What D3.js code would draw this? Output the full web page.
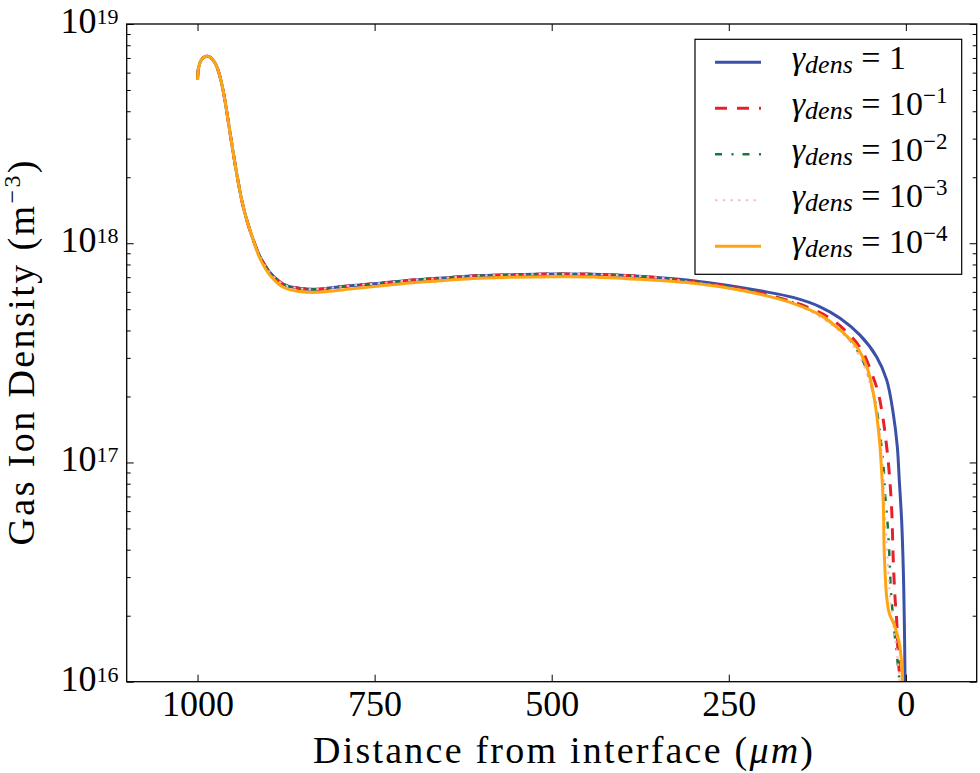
<!DOCTYPE html>
<html>
<head>
<meta charset="utf-8">
<script src="https://cdn.jsdelivr.net/npm/d3@7"></script>
<style>
  body { margin: 0; background: #fff; }
  svg { display: block; }
  text { font-family: "Liberation Serif", serif; fill: #000; }
</style>
</head>
<body>
<div id="container"></div>
<script>
// distance from interface (um) and gas ion density (m^-3)
const headDist = [1000, 998.6, 995.1, 990.9, 986.2, 981.0, 975.3, 969.7, 964.0, 958.4, 951.8, 944.7, 937.6, 930.6, 921.3];
const headDens = [5.55e18, 6.3e18, 6.82e18, 7.05e18, 7.12e18, 7.0e18, 6.64e18, 5.97e18, 5.0e18, 3.92e18, 2.86e18, 2.08e18, 1.57e18, 1.28e18, 1.035e18];

const plateauDist = [911.8, 897.7, 878.9, 855.3, 831.8, 808.3, 784.8, 742.4, 695.8, 648.2, 601.2, 554.6, 507.1, 441.7, 394.1, 347.1];
const plateauDens = [8.69e17, 7.35e17, 6.5e17, 6.22e17, 6.17e17, 6.28e17, 6.4e17, 6.57e17, 6.79e17, 6.96e17, 7.12e17, 7.18e17, 7.24e17, 7.22e17, 7.12e17, 6.96e17];

const blueDist = [300.5, 252.9, 205.9, 159.3, 121.2, 92.9, 64.7, 41.2, 27.1, 17.8, 12.1, 9.3, 6.0, 3.6, 2.2, 1.2, 1.0];
const blueDens = [6.75e17, 6.44e17, 6.07e17, 5.66e17, 5.13e17, 4.55e17, 3.81e17, 3.03e17, 2.38e17, 1.67e17, 1.18e17, 8.32e16, 5.47e16, 3.23e16, 1.91e16, 1.02e16, 8e15];

const redDist = [300.5, 252.9, 205.9, 140, 107.1, 83.5, 62.4, 48.2, 38.9, 31.9, 27.1, 23.4, 20.0, 17.8, 15.4, 13.0, 10.7, 8.3, 7.5];
const redDens = [6.68e17, 6.36e17, 5.94e17, 5.13e17, 4.55e17, 3.94e17, 3.26e17, 2.55e17, 2.07e17, 1.56e17, 1.18e17, 8.93e16, 6.07e16, 3.59e16, 2.44e16, 1.91e16, 1.26e16, 1.02e16, 8.5e15];

const greenDist = [300.5, 252.9, 205.9, 149.5, 107.1, 78.9, 60.0, 48.2, 40.3, 35.5, 30.9, 29.5, 26.2, 23.4, 21.4, 17.8, 13.0, 9.3, 8.5];
const greenDens = [6.65e17, 6.32e17, 5.9e17, 5.22e17, 4.39e17, 3.62e17, 2.88e17, 2.22e17, 1.67e17, 1.27e17, 8.93e16, 7.26e16, 5.47e16, 3.87e16, 2.71e16, 1.91e16, 1.35e16, 1.02e16, 8.5e15];

const pinkDist = [300.5, 252.9, 205.9, 149.5, 107.1, 78.9, 60.0, 48.2, 40.3, 35.5, 31.5, 29.0, 26.0, 23.0, 18.0, 12.5, 9.0, 8.2];
const pinkDens = [6.62e17, 6.3e17, 5.88e17, 5.15e17, 4.3e17, 3.55e17, 2.8e17, 2.15e17, 1.6e17, 1.22e17, 8.6e16, 5.4e16, 3.8e16, 2.6e16, 1.85e16, 1.35e16, 1.02e16, 8.5e15];

const orangeDist = [911.8, 897.7, 878.9, 855.3, 831.8, 808.3, 784.8, 742.4, 695.8, 648.2, 601.2, 554.6, 488, 441.7, 394.1, 347.1, 300.5, 252.9, 205.9, 159.3, 121.2, 92.9, 69.4, 55.3, 45.9, 40.3, 36.5, 34.1, 31.9, 30.5, 27.1, 23.4, 15.4, 9.3, 6.0, 5.1, 4.8];
const orangeDens = [8.5e17, 7.15e17, 6.3e17, 6.02e17, 5.97e17, 6.06e17, 6.18e17, 6.38e17, 6.61e17, 6.78e17, 6.92e17, 7.0e17, 7.04e17, 7.02e17, 6.89e17, 6.76e17, 6.57e17, 6.27e17, 5.85e17, 5.32e17, 4.71e17, 4.02e17, 3.37e17, 2.74e17, 2.07e17, 1.56e17, 1.18e17, 8.93e16, 6.53e16, 3.87e16, 2.44e16, 2.05e16, 1.78e16, 1.5e16, 1.21e16, 1.02e16, 9e15];

const exponents = [0, -1, -2, -3, -4];
const colors = ["#3a51a7", "#e8202a", "#17793a", "#ffb6c6", "#ffa514"];
const xTicks = [1000, 750, 500, 250, 0];
const yMajor = [1e16, 1e17, 1e18, 1e19];

const w = 980, h = 773;
const pLeft = 126.7, pRight = 976.7, pTop = 24, pBottom = 681.7;

function pairs(xs, ys) { return xs.map((d, i) => [d, ys[i]]); }
const head = pairs(headDist, headDens);
const plateau = pairs(plateauDist, plateauDens);

const series = [
  { pts: head.concat(plateau, pairs(blueDist, blueDens)), width: 3, dash: null },
  { pts: head.concat(plateau, pairs(redDist, redDens)), width: 3, dash: "12,10" },
  { pts: head.concat(plateau, pairs(greenDist, greenDens)), width: 2.5, dash: "7,9.5,2,9" },
  { pts: head.concat(plateau, pairs(pinkDist, pinkDens)), width: 2, dash: "2.5,5.2" },
  { pts: head.concat(pairs(orangeDist, orangeDens)), width: 3, dash: null }
];

const xScale = d3.scaleLinear().domain([1100, -100]).range([pLeft, pRight]);
const yScale = d3.scaleLog().domain([1e16, 1e19]).range([pBottom, pTop]);

const svg = d3.select("#container").append("svg")
  .attr("width", w).attr("height", h);

svg.append("clipPath").attr("id", "plotclip")
  .append("rect")
  .attr("x", pLeft).attr("y", pTop)
  .attr("width", pRight - pLeft).attr("height", pBottom - pTop);

const line = d3.line()
  .x(d => xScale(d[0]))
  .y(d => yScale(d[1]))
  .curve(d3.curveCatmullRom.alpha(0.5));

const plot = svg.append("g").attr("clip-path", "url(#plotclip)");
series.forEach((s, i) => {
  plot.append("path")
    .attr("d", line(s.pts))
    .attr("fill", "none")
    .attr("stroke", colors[i])
    .attr("stroke-width", s.width)
    .attr("stroke-dasharray", s.dash)
    .attr("stroke-linejoin", "round");
});

// minor ticks for the log axis
const yMinor = [];
[1e16, 1e17, 1e18].forEach(b => { for (let k = 2; k <= 9; k++) yMinor.push(b * k); });

function clean(g) {
  g.select(".domain").remove();
  g.selectAll(".tick line").attr("stroke", "#000").attr("stroke-width", 1);
}

svg.append("g")
  .attr("transform", "translate(0," + pBottom + ")")
  .call(d3.axisBottom(xScale).tickValues(xTicks).tickFormat(d3.format("d"))
    .tickSizeInner(-7).tickSizeOuter(0).tickPadding(9))
  .call(clean)
  .selectAll("text")
  .style("font-family", "Liberation Serif")
  .style("font-size", "36px");

svg.append("g")
  .attr("transform", "translate(0," + pTop + ")")
  .call(d3.axisTop(xScale).tickValues(xTicks).tickSizeInner(-7).tickSizeOuter(0).tickFormat(""))
  .call(clean);

svg.append("g")
  .attr("transform", "translate(" + pLeft + ",0)")
  .call(d3.axisLeft(yScale).tickValues(yMajor).tickSizeInner(-7).tickSizeOuter(0).tickFormat(""))
  .call(clean);
svg.append("g")
  .attr("transform", "translate(" + pLeft + ",0)")
  .call(d3.axisLeft(yScale).tickValues(yMinor).tickSizeInner(-4).tickSizeOuter(0).tickFormat(""))
  .call(clean);
svg.append("g")
  .attr("transform", "translate(" + pRight + ",0)")
  .call(d3.axisRight(yScale).tickValues(yMajor).tickSizeInner(-7).tickSizeOuter(0).tickFormat(""))
  .call(clean);
svg.append("g")
  .attr("transform", "translate(" + pRight + ",0)")
  .call(d3.axisRight(yScale).tickValues(yMinor).tickSizeInner(-4).tickSizeOuter(0).tickFormat(""))
  .call(clean);

// y tick labels 10^n
yMajor.forEach(v => {
  const t = svg.append("text")
    .attr("x", 118.5)
    .attr("y", yScale(v) + 9)
    .attr("text-anchor", "end");
  t.append("tspan").style("font-size", "36px").text("10");
  t.append("tspan").style("font-size", "22px").attr("dy", -9).text(Math.round(Math.log10(v)));
});

// frame
svg.append("rect")
  .attr("x", pLeft).attr("y", pTop)
  .attr("width", pRight - pLeft).attr("height", pBottom - pTop)
  .attr("fill", "none").attr("stroke", "#000").attr("stroke-width", 1.3);

// x label
const xl = svg.append("text")
  .attr("x", 563).attr("y", 763)
  .attr("text-anchor", "middle")
  .attr("textLength", 500).attr("lengthAdjust", "spacing")
  .style("font-size", "38px");
xl.append("tspan").text("Distance from interface (");
xl.append("tspan").style("font-style", "italic").text("μm");
xl.append("tspan").text(")");

// y label
const yl = svg.append("text")
  .attr("transform", "translate(34,353) rotate(-90)")
  .attr("text-anchor", "middle")
  .attr("textLength", 385).attr("lengthAdjust", "spacing")
  .style("font-size", "38px");
yl.append("tspan").text("Gas Ion Density (m");
yl.append("tspan").style("font-size", "24px").attr("dy", -14).text("−3");
yl.append("tspan").attr("dy", 14).text(")");

// legend
const legend = svg.append("g");
legend.append("rect")
  .attr("x", 695).attr("y", 39.3)
  .attr("width", 266.7).attr("height", 235)
  .attr("fill", "#fff").attr("stroke", "#000").attr("stroke-width", 1.2);

series.forEach((s, i) => {
  const ly = 62.3 + i * 46;
  legend.append("line")
    .attr("x1", 715).attr("x2", 761)
    .attr("y1", ly).attr("y2", ly)
    .attr("stroke", colors[i])
    .attr("stroke-width", s.width)
    .attr("stroke-dasharray", s.dash);
  const t = legend.append("text").attr("x", 791.7).attr("y", ly + 7);
  t.append("tspan").style("font-size", "34px").style("font-style", "italic").text("γ");
  t.append("tspan").style("font-size", "26px").style("font-style", "italic").attr("dy", 4).text("dens");
  t.append("tspan").style("font-size", "34px").attr("dy", -4).text(" = ");
  if (exponents[i] === 0) {
    t.append("tspan").style("font-size", "34px").text("1");
  } else {
    t.append("tspan").style("font-size", "34px").text("10");
    t.append("tspan").style("font-size", "23px").attr("dy", -12).text("−" + Math.abs(exponents[i]));
  }
});
</script>
</body>
</html>
